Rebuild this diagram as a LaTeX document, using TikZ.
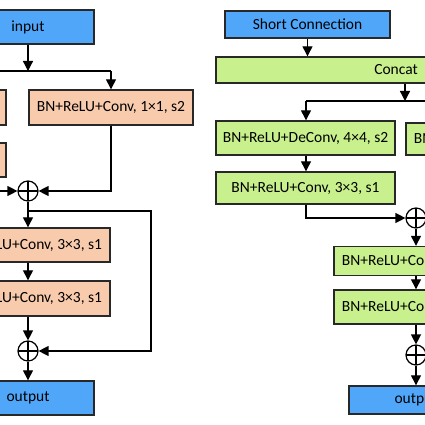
\documentclass[tikz,border=0pt]{standalone}
\usepackage{fontspec}
\setmainfont{Carlito}
\usetikzlibrary{arrows.meta}
\definecolor{bluebox}{RGB}{80,167,250}
\definecolor{salmon}{RGB}{248,203,173}
\definecolor{lgreen}{RGB}{200,240,140}
\definecolor{edge}{RGB}{40,40,40}
\begin{document}
\begin{tikzpicture}[x=1pt,y=-1pt,
  box/.style={draw=edge,line width=1.4pt,minimum width=164pt,inner sep=0pt,font=\fontsize{15.5}{18}\selectfont},
  io/.style={box,fill=bluebox,minimum width=132pt},
  rbox/.style={box,fill=salmon},
  gbox/.style={box,fill=lgreen},
  addop/.style={circle,draw=black,line width=1.2pt,minimum size=20pt,inner sep=0pt,
    path picture={\draw[line width=1.2pt] (path picture bounding box.north) -- (path picture bounding box.south) (path picture bounding box.west) -- (path picture bounding box.east);}},
  conn/.style={draw=black,line width=1.3pt},
  arr/.style={conn,-{Triangle[length=10pt,width=10pt]}}]
\useasboundingbox (0,0) rectangle (425,425);
\clip (0,0) rectangle (425,425);
\fill[white] (0,0) rectangle (425,425);
% ---------- left block ----------
\node[io,minimum height=34pt] (in) at (28,27) {input};
\node[rbox,minimum height=35pt] (L1) at (-76,107.5) {BN+ReLU+Conv, 3×3, s2};
\node[rbox,minimum height=34pt] (L2) at (-76,160) {BN+ReLU+Conv, 3×3, s1};
\node[rbox,minimum height=35pt] (R1) at (111,107.5) {BN+ReLU+Conv, 1×1, s2};
\node[addop] (a1) at (28,191) {};
\node[rbox,minimum height=34pt] (C1) at (28,245) {BN+ReLU+Conv, 3×3, s1};
\node[rbox,minimum height=35pt] (C2) at (28,298.5) {BN+ReLU+Conv, 3×3, s1};
\node[addop] (a2) at (28,351) {};
\node[io,minimum height=34pt] (out) at (28,398) {output};
\coordinate (j1) at (28,71);
\coordinate (j1l) at (-76,71);
\coordinate (j1r) at (111,71);
\coordinate (b1) at (28,211);
\coordinate (s1) at (151,211);
\draw[arr] (in.south) -- (j1);
\draw[conn] (j1l) -- (j1r);
\draw[arr] (j1r) -- (R1.north);
\draw[arr] (j1l) -- (L1.north);
\draw[arr] (L1) -- (L2);
\draw[arr] (L2.south) |- (a1.west);
\draw[arr] (R1.south) |- (a1.east);
\draw[arr] (a1) -- (C1);
\draw[arr] (b1) -- (s1) |- (a2.east);
\draw[arr] (C1) -- (C2);
\draw[arr] (C2) -- (a2);
\draw[arr] (a2) -- (out);
% ---------- right block ----------
\node[io,minimum width=165pt,minimum height=27pt] (sc) at (307.5,24.5) {Short Connection};
\node[gbox,minimum width=360pt,minimum height=26pt] (cc) at (396,70) {Concat};
\node[gbox,minimum width=179pt,minimum height=34pt] (D1) at (305.5,138) {BN+ReLU+DeConv, 4×4, s2};
\node[gbox,minimum height=32pt] (D2) at (488,139) {BN+ReLU+Conv, 1×1, s1};
\node[gbox,minimum width=179pt,minimum height=32pt] (E1) at (305.5,188) {BN+ReLU+Conv, 3×3, s1};
\node[addop] (a3) at (416,218) {};
\node[gbox,minimum height=29pt] (F1) at (416,261) {BN+ReLU+Conv, 3×3, s1};
\node[gbox,minimum height=34pt] (F2) at (416,307) {BN+ReLU+Conv, 3×3, s1};
\node[addop] (a4) at (416,355) {};
\node[io,minimum width=134pt,minimum height=28pt] (out2) at (416,400) {output};
\coordinate (j2) at (405,101);
\coordinate (j2l) at (306,101);
\coordinate (j2r) at (440,101);
\draw[arr] (sc.south) -- (sc.south |- cc.north);
\draw[arr] (j2 |- cc.south) -- (j2);
\draw[conn] (j2l) -- (j2r);
\draw[arr] (j2l) -- (j2l |- D1.north);
\draw[arr] (j2l |- D1.south) -- (j2l |- E1.north);
\draw[arr] (j2l |- E1.south) |- (a3.west);
\draw[arr] (a3) -- (F1);
\draw[arr] (F1) -- (F2);
\draw[arr] (F2) -- (a4);
\draw[arr] (a4) -- (out2);
\end{tikzpicture}
\end{document}
